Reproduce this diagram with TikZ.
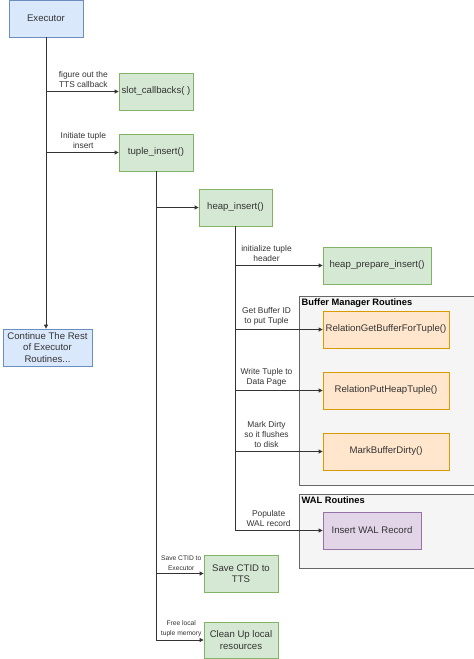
\documentclass[tikz,border=0pt]{standalone}
\usepackage{fontspec}
\setmainfont{Liberation Sans}
\usetikzlibrary{arrows.meta}
\definecolor{gfill}{HTML}{D5E8D4}\definecolor{gdraw}{HTML}{82B366}
\definecolor{bfill}{HTML}{DAE8FC}\definecolor{bdraw}{HTML}{6C8EBF}
\definecolor{ofill}{HTML}{FFE6CC}\definecolor{odraw}{HTML}{D79B00}
\definecolor{pfill}{HTML}{E1D5E7}\definecolor{pdraw}{HTML}{9673A6}
\definecolor{grpfill}{HTML}{F5F5F5}\definecolor{grpdraw}{HTML}{666666}
\definecolor{txt}{HTML}{333333}
\tikzset{
  box/.style={draw, line width=0.8pt, minimum height=37pt, inner sep=1pt, align=center,
    font=\fontsize{9.6}{11.5}\selectfont, text=txt},
  gbox/.style={box, fill=gfill, draw=gdraw},
  bbox/.style={box, fill=bfill, draw=bdraw},
  obox/.style={box, fill=ofill, draw=odraw},
  pbox/.style={box, fill=pfill, draw=pdraw},
  grp/.style={draw=grpdraw, fill=grpfill, line width=0.6pt},
  grptitle/.style={anchor=north west, inner sep=0pt, font=\fontsize{9.3}{11}\selectfont\bfseries, text=black},
  conn/.style={draw=txt, line width=0.8pt, -{Triangle[length=4pt,width=4pt]}},
  lbl/.style={anchor=south, align=center, inner xsep=1pt, inner ysep=3.5pt, text=txt, font=\fontsize{8.4}{10.2}\selectfont},
  slbl/.style={anchor=south, align=center, inner xsep=1pt, inner ysep=3pt, text=txt, font=\fontsize{6.7}{9.5}\selectfont},
}
\begin{document}
\begin{tikzpicture}[x=1pt,y=-1pt]
\useasboundingbox (0,0) rectangle (474,659);
\fill[white] (0,0) rectangle (474,659);
% groups
\draw[grp] (299,296) rectangle (480,485);
\node[grptitle] (buftitle) at (301.5,299) {Buffer Manager Routines};
\draw[grp] (299,494) rectangle (480,568);
\node[grptitle] (waltitle) at (301.5,497) {WAL Routines};
% nodes
\node[bbox, minimum width=74pt] (exec) at (46,18.5) {Executor};
\node[bbox, minimum width=89pt] (cont) at (47.5,347.5) {Continue The Rest\\of Executor\\Routines...};
\node[gbox, minimum width=74pt] (slot) at (156,91.5) {slot\_callbacks( )};
\node[gbox, minimum width=74pt] (tuple) at (156,152.5) {tuple\_insert()};
\node[gbox, minimum width=73pt] (heap) at (235.5,207.5) {heap\_insert()};
\node[gbox, minimum width=108pt] (prep) at (377,265.5) {heap\_prepare\_insert()};
\node[obox, minimum width=126pt] (rgb) at (386,329.5) {RelationGetBufferForTuple()};
\node[obox, minimum width=126pt] (rput) at (386,390.5) {RelationPutHeapTuple()};
\node[obox, minimum width=126pt] (mark) at (386,451.5) {MarkBufferDirty()};
\node[pbox, minimum width=98pt] (wal) at (372,530.5) {Insert WAL Record};
\node[gbox, minimum width=74pt] (save) at (241,573.5) {Save CTID to\\TTS};
\node[gbox, minimum width=74pt, minimum height=36pt] (clean) at (241,640) {Clean Up local\\resources};
% connectors
\draw[conn] (exec.south) -- (exec.south |- cont.north);
\draw[conn] (exec.south) |- node[lbl, pos=0.757] {figure out the\\TTS callback} (slot.west);
\draw[conn] (exec.south) |- node[lbl, pos=0.757] {Initiate tuple\\insert} (tuple.west);
\draw[conn] (tuple.south) |- (heap.west);
\draw[conn] (tuple.south) |- node[slbl, pos=0.765] {Save CTID to\\Executor} (save.west);
\draw[conn] (tuple.south) |- node[slbl, pos=0.765] {Free local\\tuple memory} (clean.west);
\draw[conn] (heap.south) |- node[lbl, pos=0.678] {initialize tuple\\header} (prep.west);
\draw[conn] (heap.south) |- node[lbl, pos=0.678] {Get Buffer ID\\to put Tuple} (rgb.west);
\draw[conn] (heap.south) |- node[lbl, pos=0.678] {Write Tuple to\\Data Page} (rput.west);
\draw[conn] (heap.south) |- node[lbl, pos=0.678] {Mark Dirty\\so it flushes\\to disk} (mark.west);
\draw[conn] (heap.south) |- node[lbl, pos=0.69] {Populate\\WAL record} (wal.west);
\end{tikzpicture}
\end{document}
